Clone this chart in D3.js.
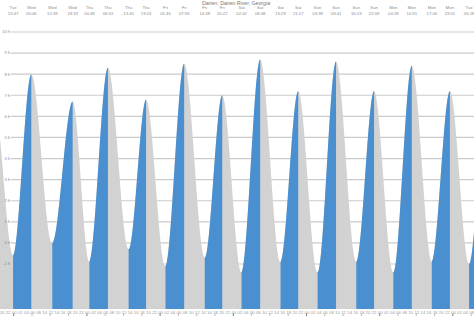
<!DOCTYPE html>
<html>
<head>
<meta charset="utf-8">
<script src="https://cdn.jsdelivr.net/npm/d3@7"></script>
<style>
  body { margin: 0; background: #fff; }
  svg { display: block; font-family: "Liberation Sans", Arial, sans-serif; }
</style>
</head>
<body>
<div id="chart"></div>
<script>
var width = 474;
var height = 316;

// tide extremes (first two and last two lie outside the window)
var tideDay = ["Tue", "Tue", "Tue", "Wed", "Wed", "Wed", "Thu", "Thu", "Thu", "Thu",
               "Fri", "Fri", "Fri", "Fri", "Sat", "Sat", "Sat", "Sat",
               "Sun", "Sun", "Sun", "Sun", "Mon", "Mon", "Mon", "Mon", "Tue", "Tue", "Tue"];
var tideTime = ["11:05", "17:35", "23:47", "05:46", "12:39", "19:19", "00:48", "06:53", "13:40", "19:24",
                "01:46", "07:53", "14:38", "20:22", "02:42", "08:48", "15:29", "21:17",
                "03:38", "09:41", "16:19", "22:09", "04:28", "10:31", "17:05", "23:01", "05:18", "11:35", "17:50"];
var tideHeight = [0.2, 6.6, -0.6, 8.0, 0.0, 6.7, -0.9, 8.3, -0.3, 6.8,
                  -1.1, 8.5, -0.7, 7.0, -1.4, 8.7, -0.9, 7.2,
                  -1.4, 8.6, -0.9, 7.2, -1.4, 8.4, -0.9, 7.2, -1.0, 8.2, -0.8];

var yTicks = [10, 9, 8, 7, 6, 5, 4, 3, 2, 1, 0, -1];
var title = "Darien, Darien River, Georgia";

// turn day names + times into dates (week starting Tue 2024-01-02)
var dayOffset = 0;
var tides = tideDay.map(function(d, i) {
  if (i > 0 && d != tideDay[i - 1]) dayOffset++;
  var hm = tideTime[i].split(":");
  return {
    day: d,
    label: tideTime[i],
    date: new Date(2024, 0, 2 + dayOffset, +hm[0], +hm[1]),
    h: tideHeight[i]
  };
});

var svg = d3.select("#chart").append("svg")
            .attr("width", width)
            .attr("height", height);

var x = d3.scaleTime()
          .domain([new Date(2024, 0, 2, 19, 30), new Date(2024, 0, 9, 6, 55)])
          .range([0, width]);

var y = d3.scaleLinear()
          .domain([-1, 10])
          .range([264, 32]);

var base = 309;

// grid lines
svg.selectAll(".grid").data(yTicks).enter().append("line")
   .attr("x1", 11).attr("x2", width)
   .attr("y1", function(d){ return y(d); })
   .attr("y2", function(d){ return y(d); })
   .attr("stroke", "#cbcbcb")
   .attr("stroke-width", 1.2);

var area = d3.area()
             .curve(d3.curveMonotoneX)
             .x(function(d){ return x(d.date); })
             .y0(base)
             .y1(function(d){ return y(d.h); });

// rising stretches get the blue fill
var rising = [];
for (var i = 0; i < tides.length - 1; i++) {
  if (tides[i + 1].h > tides[i].h) rising.push([tides[i].date, tides[i + 1].date]);
}

svg.append("clipPath").attr("id", "rise")
   .selectAll("rect").data(rising).enter().append("rect")
   .attr("x", function(d){ return x(d[0]); })
   .attr("width", function(d){ return x(d[1]) - x(d[0]); })
   .attr("y", 0)
   .attr("height", height);

svg.append("path")
   .attr("d", area(tides))
   .attr("fill", "#d2d2d2");

svg.append("path")
   .attr("d", area(tides))
   .attr("fill", "#4a8fd0")
   .attr("clip-path", "url(#rise)");

svg.selectAll(".ylab").data(yTicks).enter().append("text")
   .attr("x", 10)
   .attr("y", function(d){ return y(d); })
   .attr("dy", "0.35em")
   .attr("text-anchor", "end")
   .attr("font-size", 4)
   .attr("fill", "#888")
   .text(function(d){ return d + " ft"; });

// top labels: day + time of each high / low inside the window
var shown = tides.filter(function(d){ return x(d.date) > 0 && x(d.date) < width; });
var topLabels = svg.selectAll(".tl").data(shown).enter().append("g")
             .attr("transform", function(d){ return "translate(" + x(d.date) + ",0)"; })
             .attr("font-size", 4.2)
             .attr("fill", "#8a8a8a")
             .attr("text-anchor", "middle");
topLabels.append("text").attr("y", 8.5).text(function(d){ return d.day; });
topLabels.append("text").attr("y", 14.5).text(function(d){ return d.label; });

svg.append("text")
   .attr("x", 236)
   .attr("y", 5)
   .attr("text-anchor", "middle")
   .attr("font-size", 5.2)
   .attr("fill", "#777")
   .text(title);

// bottom hour axis
var xAxis = svg.append("g")
   .attr("transform", "translate(0," + base + ")")
   .call(d3.axisBottom(x)
           .ticks(d3.timeHour.every(2))
           .tickFormat(d3.timeFormat("%H"))
           .tickSize(0)
           .tickPadding(1.5));
xAxis.select(".domain").remove();
xAxis.selectAll("text").attr("font-size", 4.3).attr("fill", "#999");

svg.selectAll(".mid").data(d3.timeHour.every(6).range(x.domain()[0], x.domain()[1])).enter().append("line")
   .attr("x1", function(d){ return x(d); })
   .attr("x2", function(d){ return x(d); })
   .attr("y1", 313.5).attr("y2", height)
   .attr("stroke", function(d){ return d.getHours() == 0 ? "#555" : "#aaa"; })
   .attr("stroke-width", 0.8);
</script>
</body>
</html>
